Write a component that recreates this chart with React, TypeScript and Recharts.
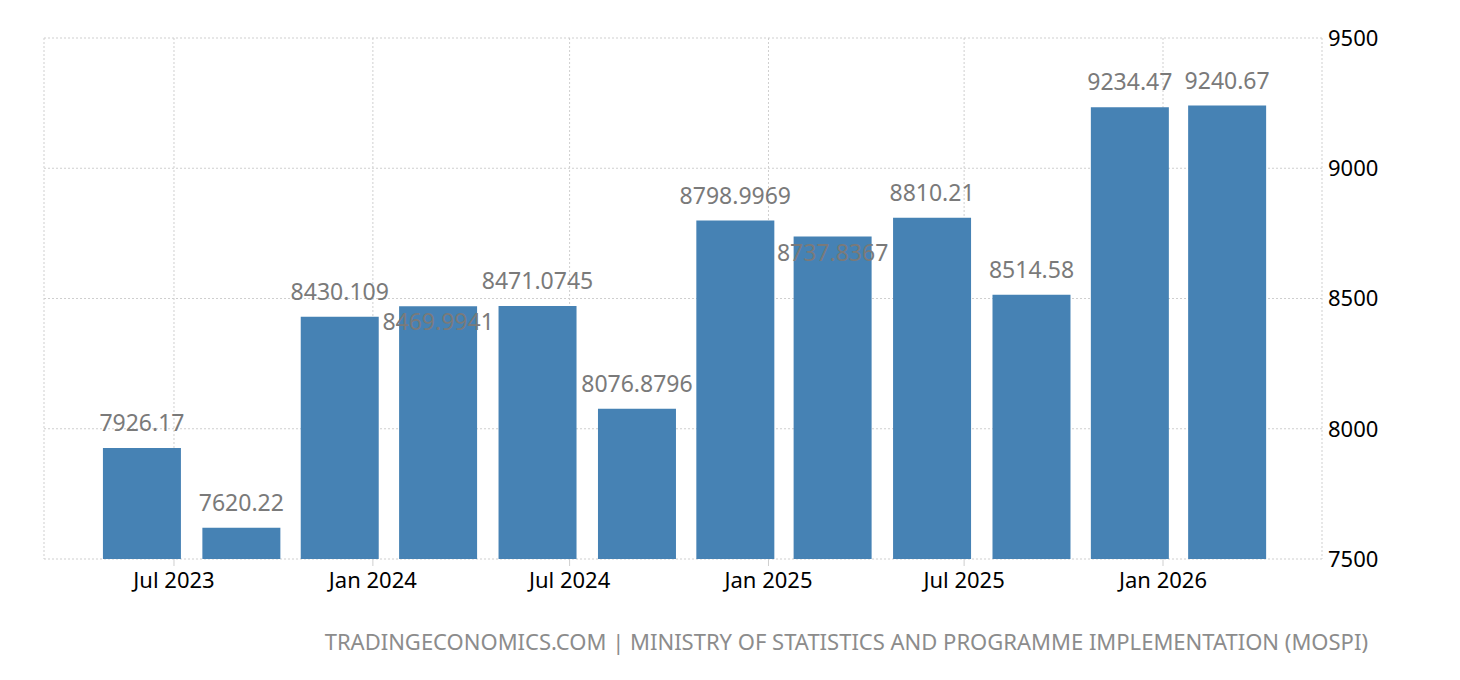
import React from "react";
import {
  BarChart,
  Bar,
  XAxis,
  YAxis,
  CartesianGrid,
  LabelList,
} from "recharts";

// Quarterly values, each dated to the first day of the quarter's last month
const periods = [
  "2023-06-01",
  "2023-09-01",
  "2023-12-01",
  "2024-03-01",
  "2024-06-01",
  "2024-09-01",
  "2024-12-01",
  "2025-03-01",
  "2025-06-01",
  "2025-09-01",
  "2025-12-01",
  "2026-03-01",
];

const values = [
  7926.17, 7620.22, 8430.109, 8469.9941, 8471.0745, 8076.8796, 8798.9969,
  8737.8367, 8810.21, 8514.58, 9234.47, 9240.67,
];

// Value labels that sit inside the top of their bar instead of above it
const insideLabels = [3, 7];

const xTickDates = [
  "2023-07-01",
  "2024-01-01",
  "2024-07-01",
  "2025-01-01",
  "2025-07-01",
  "2026-01-01",
];

const yTicks = [7500, 8000, 8500, 9000, 9500];

const MONTHS = ["Jan", "Feb", "Mar", "Apr", "May", "Jun", "Jul", "Aug", "Sep", "Oct", "Nov", "Dec"];
const DAY = 86400000;
const toTime = (s: string) => Date.parse(s + "T00:00:00Z");

const data = periods.map((p, i) => ({ t: toTime(p), value: values[i], idx: i }));
const xTicks = xTickDates.map(toTime);
const xDomain = [toTime("2023-07-01") - 120.27 * DAY, toTime("2026-01-01") + 147.1 * DAY];

const FONT = "'Noto Sans', 'DejaVu Sans', sans-serif";
const BAR = "#4682b4";
const GRID = "#cfcfcf";
const LABEL = "#7a7a7a";

const fmtDate = (t: number) => {
  const d = new Date(t);
  return `${MONTHS[d.getUTCMonth()]} ${d.getUTCFullYear()}`;
};

const ValueLabel = (props: any) => {
  const { x, y, width, value, index } = props;
  const inside = insideLabels.includes(index);
  return (
    <text
      x={x + width / 2}
      y={inside ? y + 24 : y - 17}
      textAnchor="middle"
      fill={LABEL}
      fontSize={23}
      fontFamily={FONT}
    >
      {String(value)}
    </text>
  );
};

export default function App() {
  return (
    <div style={{ position: "relative", width: 1444, height: 664, background: "#fff" }}>
      <BarChart
        width={1444}
        height={664}
        data={data}
        margin={{ top: 30, right: 30, bottom: 73, left: 36 }}
      >
        <CartesianGrid stroke={GRID} strokeDasharray="2 2" />
        <XAxis
          dataKey="t"
          type="number"
          scale="linear"
          domain={xDomain}
          ticks={xTicks}
          tickFormatter={fmtDate}
          allowDataOverflow
          axisLine={false}
          tickLine={{ stroke: GRID }}
          tickSize={7}
          tickMargin={6}
          height={40}
          tick={{ fill: "#000", fontSize: 22, fontFamily: FONT }}
        />
        <YAxis
          orientation="right"
          domain={[7500, 9500]}
          ticks={yTicks}
          allowDataOverflow
          axisLine={false}
          tickLine={false}
          tickSize={0}
          tickMargin={6}
          width={100}
          tick={{ fill: "#000", fontSize: 22, fontFamily: FONT, textAnchor: "start" }}
        />
        <Bar dataKey="value" fill={BAR} barSize={78} isAnimationActive={false}>
          <LabelList dataKey="value" content={<ValueLabel />} />
        </Bar>
      </BarChart>
      <div
        style={{
          position: "absolute",
          right: 84,
          top: 618,
          fontFamily: FONT,
          fontSize: 22,
          color: "#8c8c8c",
          whiteSpace: "nowrap",
          lineHeight: "30px",
        }}
      >
        TRADINGECONOMICS.COM | MINISTRY OF STATISTICS AND PROGRAMME IMPLEMENTATION (MOSPI)
      </div>
    </div>
  );
}
